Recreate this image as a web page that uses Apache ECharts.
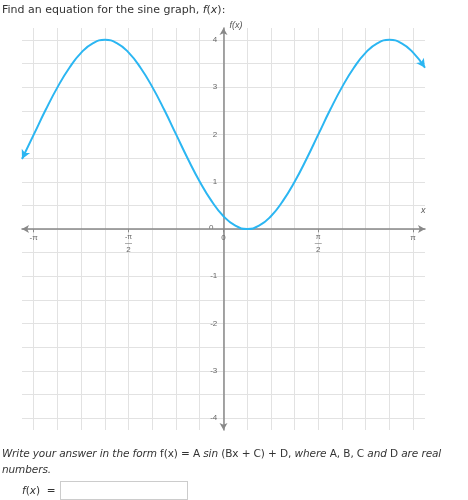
<!DOCTYPE html>
<html>
<head>
<meta charset="utf-8">
<script src="https://cdn.jsdelivr.net/npm/echarts@6/dist/echarts.min.js"></script>
<style>
body{margin:0;font-family:"DejaVu Sans",Verdana,sans-serif;color:#333;}
#chart{position:absolute;left:0;top:0;width:468px;height:500px;}
.t{position:absolute;font-size:10.5px;white-space:nowrap;}
i{font-style:italic;}
#box{position:absolute;left:60px;top:481px;width:126px;height:17px;border:1px solid #ccc;}
</style>
</head>
<body>
<div id="chart"></div>
<div class="t" style="left:2px;top:3px;font-size:11px;">Find an equation for the sine graph, <i>f</i>(<i>x</i>):</div>
<div class="t" style="left:2px;top:445px;line-height:16px;letter-spacing:-0.1px;"><i>Write your answer in the form</i> f(x) = A <i>sin</i> (Bx + C) + D, <i>where</i> A, B, C <i>and</i> D <i>are real</i><br><i>numbers.</i></div>
<div class="t" style="left:22px;top:484px;"><i>f</i>(<i>x</i>) &nbsp;=</div>
<div id="box"></div>
<script>
// x in units of pi/16, y = f(x)
var xSixteenths = [-17,-16,-15,-14,-13,-12,-11,-10,-9,-8,-7,-6,-5,-4,-3,-2,-1,0,1,2,3,4,5,6,7,8,9,10,11,12,13,14,15,16,17];
var yValues = [1.48,2,2.52,3,3.41,3.73,3.93,4,3.93,3.73,3.41,3,2.52,2,1.48,1,0.59,0.27,0.07,0,0.07,0.27,0.59,1,1.48,2,2.52,3,3.41,3.73,3.93,4,3.93,3.73,3.41];
var xTickLabels = {'-16':'-π', '-8':'-π/2', '0':'0', '8':'π/2', '16':'π'};
var yTicks = [-4,-3,-2,-1,0,1,2,3,4];

var gridColor = '#e2e2e2';
var axisColor = '#888';
var curveColor = '#2bb6f2';

var points = xSixteenths.map(function (k, i) { return [k, yValues[i]]; });
var last = points.length - 1;
points[0] = {value: points[0], symbol: 'arrow', symbolSize: [7, 9], symbolRotate: 154};
points[last] = {value: points[last], symbol: 'arrow', symbolSize: [7, 9], symbolRotate: -146};

var myChart = echarts.init(document.getElementById('chart'));
myChart.setOption({
    animation: false,
    grid: [
        {left: 33.7, right: 55, top: 28, bottom: 70},   // vertical grid lines
        {left: 22, right: 43, top: 40, bottom: 82},     // horizontal grid lines
        {left: 22, right: 43, top: 28, bottom: 70}      // curve + axes
    ],
    xAxis: [
        {
            gridIndex: 0, type: 'value', min: -16, max: 16, interval: 8,
            position: 'bottom', offset: -200.7,
            axisLine: {show: false, onZero: false},
            axisTick: {show: true, length: 3, lineStyle: {color: axisColor}},
            splitLine: {show: true, lineStyle: {color: gridColor}},
            minorTick: {show: false, splitNumber: 4},
            minorSplitLine: {show: true, lineStyle: {color: gridColor}},
            axisLabel: {
                margin: 4, color: '#666', fontSize: 8,
                formatter: function (v) {
                    var s = xTickLabels[String(v)];
                    if (!s) { return ''; }
                    if (s.indexOf('/') < 0) { return s; }
                    var neg = s.charAt(0) === '-' ? '-' : '';
                    return '{n|' + neg + 'π}\n{b|—}\n{d|2}';
                },
                rich: {
                    n: {fontSize: 7, color: '#666', lineHeight: 8},
                    b: {fontSize: 7, color: '#666', lineHeight: 4},
                    d: {fontSize: 8, color: '#666', lineHeight: 9}
                }
            }
        },
        {gridIndex: 1, type: 'value', min: -17, max: 17, show: false},
        {
            gridIndex: 2, type: 'value', min: -17, max: 17,
            axisLine: {show: true, onZero: true, symbol: ['arrow', 'arrow'], symbolSize: [6, 7], lineStyle: {color: axisColor, width: 1.5}},
            axisTick: {show: false}, axisLabel: {show: false}, splitLine: {show: false},
            name: 'x', nameLocation: 'end', nameGap: -4,
            nameTextStyle: {fontStyle: 'italic', color: '#555', fontSize: 9, verticalAlign: 'bottom', padding: [0, 0, 14, 0]}
        }
    ],
    yAxis: [
        {gridIndex: 0, type: 'value', min: -4.25, max: 4.25, show: false},
        {
            gridIndex: 1, type: 'value', min: -4, max: 4, interval: 1,
            position: 'left', offset: -201.3,
            axisLine: {show: false, onZero: false},
            axisTick: {show: false},
            splitLine: {show: true, lineStyle: {color: gridColor}},
            minorTick: {show: false, splitNumber: 2},
            minorSplitLine: {show: true, lineStyle: {color: gridColor}},
            axisLabel: {
                margin: 6, color: '#666', fontSize: 8,
                formatter: function (v) { return (yTicks.indexOf(v) >= 0 && v !== 0) ? String(v) : ''; }
            }
        },
        {
            gridIndex: 2, type: 'value', min: -4.25, max: 4.25,
            axisLine: {show: true, onZero: true, symbol: ['arrow', 'arrow'], symbolSize: [6, 7], lineStyle: {color: axisColor, width: 1.5}},
            axisTick: {show: false}, axisLabel: {show: false}, splitLine: {show: false},
            name: 'f(x)', nameLocation: 'end', nameGap: -2,
            nameTextStyle: {fontStyle: 'italic', color: '#555', fontSize: 9, align: 'left', padding: [0, 0, 0, 6]}
        }
    ],
    graphic: [{
        type: 'text', left: 209, top: 224,
        style: {text: '0', fontSize: 8, fill: '#666'}
    }],
    series: [{
        type: 'line', xAxisIndex: 2, yAxisIndex: 2,
        data: points, smooth: true, symbol: 'none', showSymbol: true,
        itemStyle: {color: curveColor},
        lineStyle: {color: curveColor, width: 2},
        clip: false
    }]
});
</script>
</body>
</html>
